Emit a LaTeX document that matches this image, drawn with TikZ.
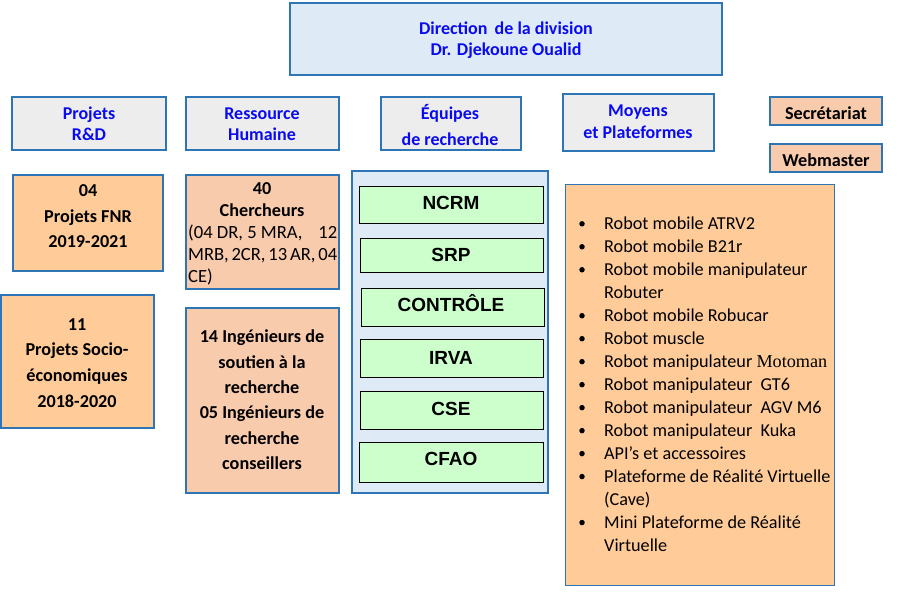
\documentclass[tikz,border=0pt]{standalone}
\usepackage{fontspec}
\setmainfont{Carlito}
\newfontfamily\arialf{Liberation Sans}
\newfontfamily\timesf{Liberation Serif}
\definecolor{bord}{HTML}{2E75B6}
\definecolor{hdrfill}{HTML}{EDEDED}
\definecolor{dirfill}{HTML}{DEEBF7}
\definecolor{peach}{HTML}{FFCC99}
\definecolor{salmon}{HTML}{F8CBAD}
\definecolor{greenf}{HTML}{CCFFCC}
\definecolor{tblue}{HTML}{0A0AF0}
\newcommand\boxn[6]{\node[#1,anchor=north west,minimum width={(#5-#3)*1pt},minimum height={(#6-#4)*1pt}] (#2) at (#3,#4) {};}
\newcommand\txtl[6]{\foreach \ss [count=\kk] in {#6} {\node[anchor=base,#1] (#2\kk) at (#3,{#4+(\kk-1)*#5}) {\ss};}}
\begin{document}
\begin{tikzpicture}[x=1pt,y=-1pt,
 hdr/.style={draw=bord,line width=2.8pt,fill=hdrfill,inner sep=0pt,outer sep=0pt},
 dirbox/.style={hdr,fill=dirfill},
 orbox/.style={hdr,fill=peach},
 sabox/.style={hdr,fill=salmon},
 contbox/.style={draw=bord,line width=1.2pt,fill=dirfill,inner sep=0pt,outer sep=0pt},
 grbox/.style={draw=black,line width=1pt,fill=greenf,inner sep=0pt,outer sep=0pt},
 listbox/.style={draw=bord,line width=1pt,fill=peach,inner sep=0pt,outer sep=0pt},
 htxt/.style={font=\bfseries\fontsize{18}{21}\selectfont,text=tblue,inner sep=0pt},
 btxt/.style={font=\bfseries\fontsize{18.2}{22}\selectfont,text=black,inner sep=0pt},
 rtxt/.style={font=\fontsize{18.6}{22}\selectfont,text=black,inner sep=0pt},
 atxt/.style={font=\arialf\bfseries\fontsize{19}{22}\selectfont,text=black,inner sep=0pt},
 ltxt/.style={font=\fontsize{18.2}{23}\selectfont,text=black,inner sep=0pt},
 bul/.style={circle,fill=black,inner sep=0pt,minimum size=5.5pt},
]
\useasboundingbox (0,0) rectangle (900,600);
% header boxes
\boxn{dirbox}{dir}{290}{3}{722}{75}
\boxn{hdr}{prd}{12}{97}{166}{150}
\boxn{hdr}{rh}{186}{97}{339}{150}
\boxn{hdr}{eq}{381}{97}{521}{150}
\boxn{hdr}{moy}{563}{94}{714}{151}
\boxn{sabox}{sec}{770}{97}{882}{125}
\boxn{sabox}{web}{770}{144}{882}{172}
% content boxes
\boxn{orbox}{fnr}{13}{175}{163}{271}
\boxn{orbox}{soc}{1}{295}{154}{428}
\boxn{sabox}{cher}{186}{175}{339}{289}
\boxn{sabox}{ing}{186}{308}{339}{493}
\boxn{contbox}{cont}{352}{171}{548}{493}
\boxn{grbox}{ncrm}{359}{186}{543}{223}
\boxn{grbox}{srp}{360}{238}{543}{272}
\boxn{grbox}{ctl}{361}{288}{544}{326}
\boxn{grbox}{irva}{360}{339}{543}{377}
\boxn{grbox}{cse}{360}{391}{543}{429}
\boxn{grbox}{cfao}{359}{442}{543}{482}
\boxn{listbox}{lst}{565}{184}{834}{585}
% header texts
\txtl{htxt}{dirt}{506}{34.5}{20.7}{Direction\hspace{0.4em}de la division,Dr. Djekoune Oualid}
\txtl{htxt}{prdt}{89}{119}{21}{Projets,R\&D}
\txtl{htxt}{rht}{262}{119}{21.5}{Ressource,Humaine}
\txtl{htxt}{eqt}{450}{119}{26}{Équipes,de recherche}
\txtl{htxt}{moyt}{638}{116.7}{21.6}{Moyens,et Plateformes}
\txtl{btxt}{sect}{826}{119}{0}{Secrétariat}
\txtl{btxt}{webt}{826}{166}{0}{Webmaster}
% content texts
\txtl{btxt}{fnrt}{88}{196.7}{25.5}{04,Projets FNR,2019-2021}
\txtl{btxt}{soct}{77}{330}{25.8}{11,Projets Socio-,économiques,2018-2020}
\txtl{btxt}{chert}{262}{194.3}{22.4}{40,Chercheurs}
\txtl{rtxt,anchor=base west}{chl}{188}{238.3}{22.2}{{\makebox[149pt][l]{(04 DR, 5 MRA,\hfill 12}},{\makebox[149pt][s]{MRB, 2CR, 13 AR, 04}},CE)}
\txtl{btxt}{ingt}{262}{342.7}{25.4}{14 Ingénieurs de,soutien à la,recherche,05 Ingénieurs de,recherche,conseillers}
\node[atxt,anchor=base] (ncrmt) at (451,209.3) {NCRM};
\node[atxt,anchor=base] (srpt) at (451,261.7) {SRP};
\node[atxt,anchor=base] (ctlt) at (451,311.7) {CONTRÔLE};
\node[atxt,anchor=base] (irvat) at (451,364) {IRVA};
\node[atxt,anchor=base] (cset) at (451,415) {CSE};
\node[atxt,anchor=base] (cfaot) at (451,465) {CFAO};
% list
\foreach \bb/\itm [count=\kk] in {1/Robot mobile ATRV2,1/Robot mobile B21r,1/Robot mobile manipulateur,0/Robuter,1/Robot mobile Robucar,1/Robot muscle,1/Robot manipulateur {\timesf Motoman},1/Robot manipulateur\ \ GT6,1/Robot manipulateur\ \ AGV M6,1/Robot manipulateur\ \ Kuka,1/API’s et accessoires,1/Plateforme de Réalité Virtuelle,0/(Cave),1/Mini Plateforme de Réalité,0/Virtuelle}{
  \node[ltxt,anchor=base west] (it\kk) at (604,{229.3+(\kk-1)*22.98}) {\itm};
  \ifnum\bb=1 \node[bul] (bu\kk) at (582,{223.8+(\kk-1)*22.98}) {};\fi
}
\end{tikzpicture}
\end{document}
